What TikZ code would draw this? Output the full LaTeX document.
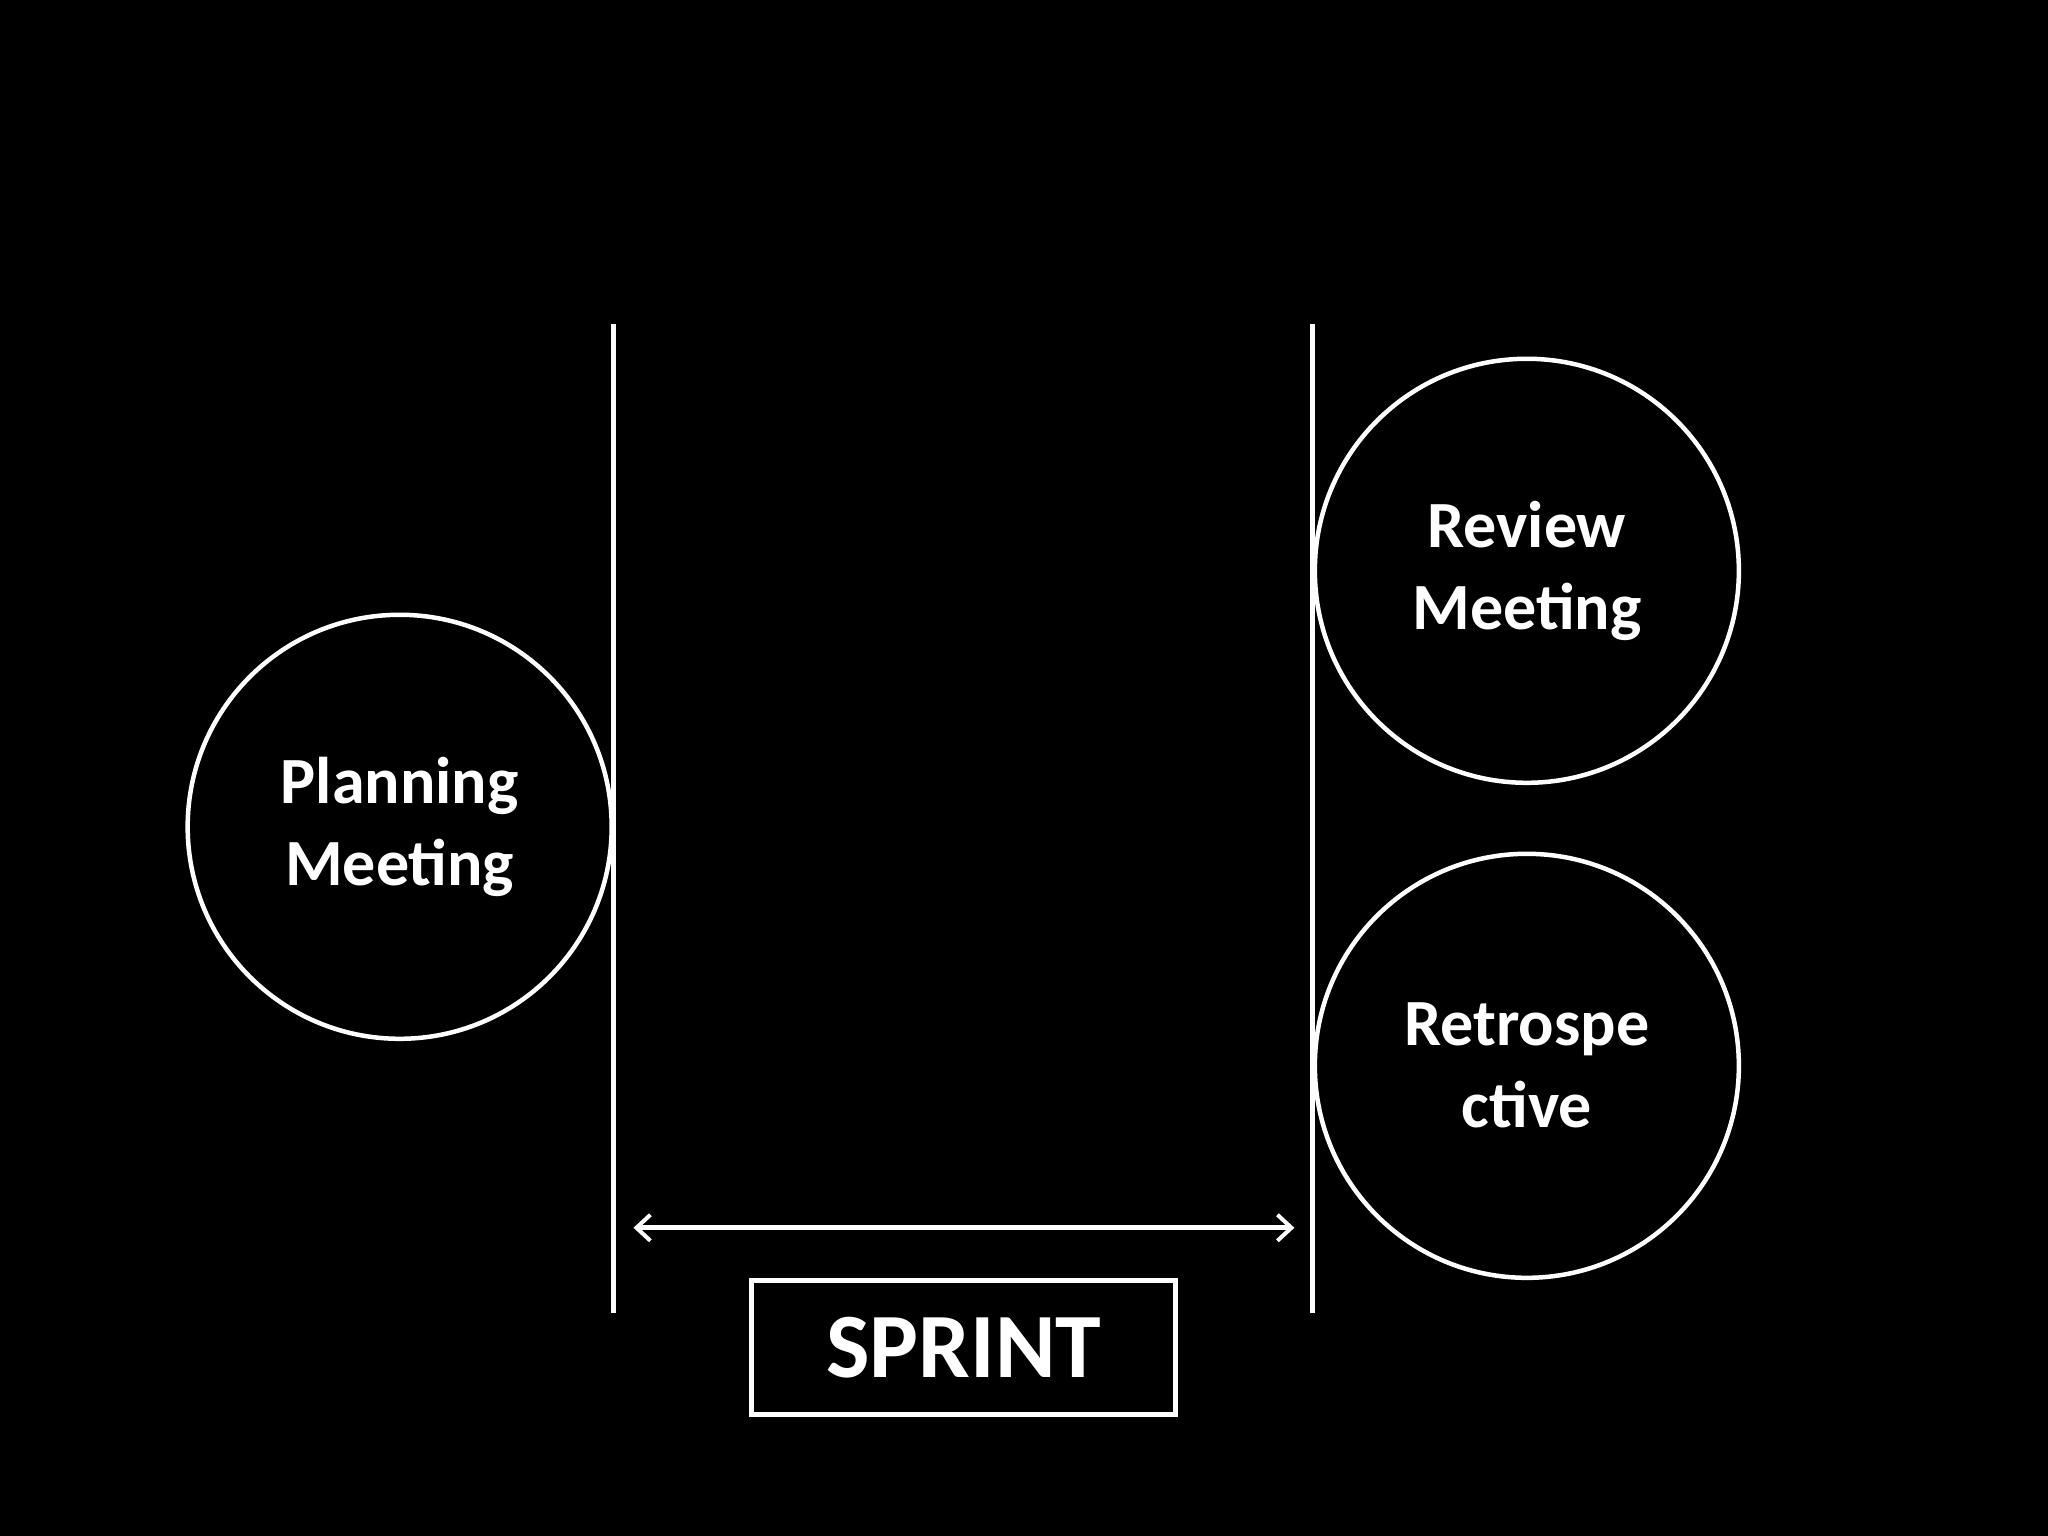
\documentclass[tikz,border=0pt]{standalone}
\usepackage{fontspec}
\setmainfont{Carlito}
\usetikzlibrary{arrows.meta}
\begin{document}
\begin{tikzpicture}[x=1.306pt,y=-1.306pt,
  ln/.style={draw=white,line width=5pt},
  circ/.style={circle,draw=white,line width=4.5pt,minimum size=424pt,inner sep=0pt,
    text=white,align=center,font=\fontsize{66}{82}\selectfont\bfseries},
  sbox/.style={draw=white,line width=5pt,minimum width=424pt,minimum height=134pt,
    text=white,font=\fontsize{92}{100}\selectfont\bfseries}]
\fill[black] (0,0) rectangle (1568,1176);
\useasboundingbox (0,0) rectangle (1568,1176);
\coordinate (l1) at (470,248); \coordinate (l2) at (470,1005);
\coordinate (r1) at (1005,248); \coordinate (r2) at (1005,1005);
\draw[ln] (l1) -- (l2);
\draw[ln] (r1) -- (r2);
\node[circ] (plan) at (306,633) {Planning\\Meeting};
\node[circ] (rev) at (1169,437) {Review\\Meeting};
\node[circ] (ret) at (1169,816) {Retrospe\\ctive};
\coordinate (a1) at (485,940); \coordinate (a2) at (991,940);
\draw[ln,{Straight Barb[length=14pt,width=26pt,line width=4pt]}-{Straight Barb[length=14pt,width=26pt,line width=4pt]}] (a1) -- (a2);
\node[sbox] (sprint) at (738,1031.5) {SPRINT};
\end{tikzpicture}
\end{document}
